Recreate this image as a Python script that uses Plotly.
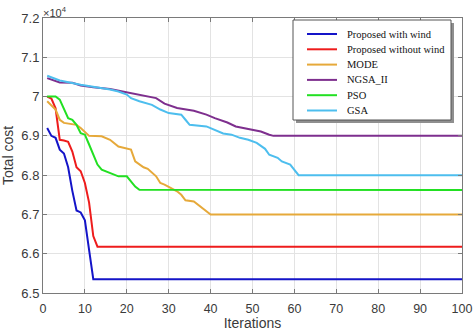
import plotly.graph_objects as go

# Data (values in units of 1e4)
wind_x = [1, 2, 3, 4, 5, 6, 7, 8, 9, 10, 11, 12, 100]
wind_y = [6.92, 6.90, 6.895, 6.865, 6.855, 6.82, 6.76, 6.71, 6.705, 6.685, 6.61, 6.535, 6.535]

nowind_x = [1, 2, 3, 4, 5, 6, 7, 8, 9, 10, 11, 12, 13, 100]
nowind_y = [7.00, 6.995, 6.97, 6.89, 6.888, 6.885, 6.86, 6.82, 6.81, 6.78, 6.73, 6.645, 6.618, 6.618]

mode_x = [1, 3, 4, 5, 8, 9, 11, 14, 16, 18, 21, 22, 24, 25, 27, 28, 29, 32, 33, 34, 36, 38, 40, 100]
mode_y = [6.988, 6.967, 6.941, 6.933, 6.928, 6.92, 6.90, 6.899, 6.89, 6.873, 6.865, 6.835, 6.82, 6.816, 6.797, 6.78, 6.776, 6.759, 6.75, 6.736, 6.733, 6.716, 6.70, 6.70]

ngsa_x = [1, 4, 7, 9, 12, 16, 19, 21, 24, 27, 29, 32, 36, 39, 41, 44, 46, 49, 52, 54, 55, 100]
ngsa_y = [7.047, 7.036, 7.035, 7.028, 7.024, 7.019, 7.013, 7.009, 7.003, 6.996, 6.982, 6.971, 6.964, 6.954, 6.945, 6.934, 6.924, 6.917, 6.911, 6.903, 6.90, 6.90]

pso_x = [1, 3, 4, 5, 6, 7, 8, 9, 10, 11, 12, 13, 14, 16, 18, 20, 21, 22, 23, 100]
pso_y = [7.00, 7.00, 6.992, 6.967, 6.945, 6.941, 6.928, 6.907, 6.903, 6.878, 6.852, 6.827, 6.814, 6.805, 6.797, 6.797, 6.784, 6.771, 6.763, 6.762]

gsa_x = [1, 4, 9, 13, 16, 18, 20, 21, 23, 26, 28, 30, 33, 34, 35, 39, 41, 43, 45, 47, 49, 51, 53, 54, 56, 57, 59, 60, 61, 100]
gsa_y = [7.053, 7.041, 7.030, 7.024, 7.018, 7.013, 7.005, 6.996, 6.988, 6.979, 6.967, 6.958, 6.954, 6.941, 6.928, 6.924, 6.916, 6.906, 6.903, 6.895, 6.890, 6.882, 6.867, 6.852, 6.844, 6.835, 6.827, 6.814, 6.80, 6.80]

series_names = ["Proposed with wind", "Proposed without wind", "MODE", "NGSA_II", "PSO", "GSA"]
series_x = [wind_x, nowind_x, mode_x, ngsa_x, pso_x, gsa_x]
series_y = [wind_y, nowind_y, mode_y, ngsa_y, pso_y, gsa_y]
series_colors = ["#1414c8", "#ee1c1c", "#e6a93a", "#7e2f8e", "#22e022", "#4dbeee"]

x_ticks = [0, 10, 20, 30, 40, 50, 60, 70, 80, 90, 100]
y_ticks = [6.5, 6.6, 6.7, 6.8, 6.9, 7.0, 7.1, 7.2]
y_ticktext = ["6.5", "6.6", "6.7", "6.8", "6.9", "7", "7.1", "7.2"]

fig = go.Figure()
for name, xs, ys, col in zip(series_names, series_x, series_y, series_colors):
    fig.add_trace(go.Scatter(x=xs, y=ys, mode="lines", name=name,
                             line=dict(color=col, width=2), showlegend=False))

W, H = 474, 331
ml, mr, mt, mb = 43, 12, 18, 38
pw, ph = W - ml - mr, H - mt - mb

def pxx(x):
    return (x - ml) / pw

def pxy(y):
    return 1 - (y - mt) / ph

axis_common = dict(showgrid=True, gridcolor="#e3e3e3", gridwidth=1,
                   showline=True, linecolor="#7a7a7a", linewidth=1, mirror="ticks",
                   ticks="inside", ticklen=4, tickcolor="#7a7a7a",
                   zeroline=False, automargin=False)

fig.update_layout(
    template="none",
    width=W, height=H,
    margin=dict(l=ml, r=mr, t=mt, b=mb, autoexpand=False),
    paper_bgcolor="white", plot_bgcolor="white",
    xaxis=dict(range=[0, 100], tickvals=x_ticks, **axis_common, ticklabelstandoff=4,
               tickfont=dict(family="Liberation Sans, Arial", size=12.5, color="#3a3a3a"),
               title=dict(text="Iterations", standoff=5,
                          font=dict(family="Liberation Sans, Arial", size=14, color="#3a3a3a"))),
    yaxis=dict(range=[6.5, 7.2], tickvals=y_ticks, ticktext=y_ticktext, **axis_common,
               tickfont=dict(family="Liberation Sans, Arial", size=13, color="#3a3a3a"),
               title=dict(text="Total cost", standoff=5,
                          font=dict(family="Liberation Sans, Arial", size=14, color="#3a3a3a"))),
    showlegend=False,
)

# Custom legend (MATLAB style box with shadow)
box_l, box_r, box_t, box_b = 293, 451, 20, 120
fig.add_shape(type="rect", xref="paper", yref="paper",
              x0=pxx(box_l + 3), x1=pxx(box_r + 3), y0=pxy(box_b + 3), y1=pxy(box_t + 3),
              fillcolor="#8f8f8f", line=dict(width=0), layer="above")
fig.add_shape(type="rect", xref="paper", yref="paper",
              x0=pxx(box_l), x1=pxx(box_r), y0=pxy(box_b), y1=pxy(box_t),
              fillcolor="white", line=dict(color="#555555", width=1), layer="above")
row0, row_step = 34, 15.3
for i, (name, col) in enumerate(zip(series_names, series_colors)):
    yy = pxy(row0 + i * row_step)
    fig.add_shape(type="line", xref="paper", yref="paper",
                  x0=pxx(307), x1=pxx(337), y0=yy, y1=yy,
                  line=dict(color=col, width=2), layer="above")
    fig.add_annotation(text=name, xref="paper", yref="paper", x=pxx(345), y=yy,
                       xanchor="left", yanchor="middle", showarrow=False,
                       font=dict(family="Liberation Serif, Times New Roman", size=10.5,
                                 color="#111111"))

fig.add_annotation(text="×10<sup>4</sup>", xref="paper", yref="paper",
                   x=0, y=1, xanchor="left", yanchor="bottom", showarrow=False,
                   font=dict(family="Liberation Sans, Arial", size=11, color="#3a3a3a"),
                   xshift=-2, yshift=-3)

fig.write_html("out.html")
